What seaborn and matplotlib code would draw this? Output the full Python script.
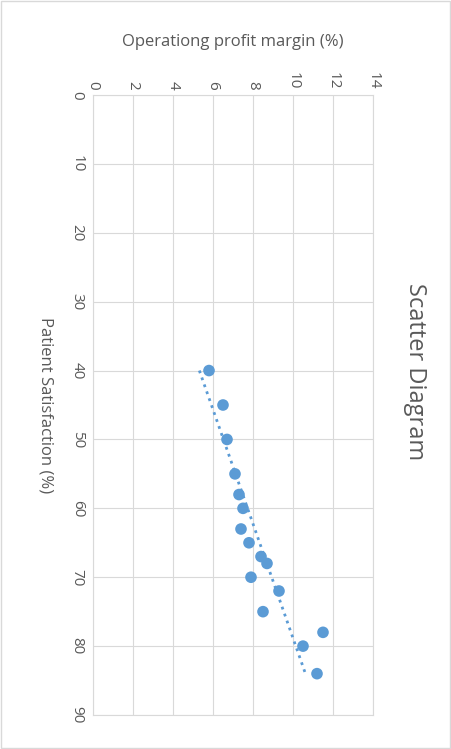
import numpy as np
import pandas as pd
import matplotlib
matplotlib.use("Agg")
import matplotlib.pyplot as plt
import seaborn as sns

satisfaction = [40, 45, 50, 55, 58, 60, 63, 65, 67, 68, 70, 72, 75, 78, 80, 84]
margin = [5.8, 6.5, 6.7, 7.1, 7.3, 7.5, 7.4, 7.8, 8.4, 8.7, 7.9, 9.3, 8.5, 11.5, 10.5, 11.2]
df = pd.DataFrame({"sat": satisfaction, "margin": margin})

sns.set_style("white")
plt.rcParams['font.family'] = ['Open Sans', 'DejaVu Sans']
fig = plt.figure(figsize=(4.51, 7.49), dpi=100)
ax = fig.add_axes([93 / 451, 1 - 715 / 749, 280 / 451, 620 / 749])

sns.scatterplot(data=df, x="margin", y="sat", ax=ax, color="#5b9bd5", s=70,
                edgecolor="none", zorder=3)

# linear trendline (margin as function of satisfaction)
k, b = np.polyfit(df["sat"], df["margin"], 1)
ts = np.array([min(satisfaction), max(satisfaction)])
ax.plot(k * ts + b, ts, color="#5b9bd5", ls=":", lw=2, zorder=2)

ax.set_xlim(0, 14)
ax.set_ylim(90, 0)
ax.set_xticks(range(0, 15, 2))
ax.set_yticks(range(0, 91, 10))
ax.grid(True, color="#d9d9d9", lw=0.8)
for s in ax.spines.values():
    s.set_color("#d9d9d9")
ax.xaxis.tick_top()
ax.tick_params(axis="x", labelrotation=-90, colors="#595959", labelsize=11, length=0, pad=4)
ax.tick_params(axis="y", labelrotation=-90, colors="#595959", labelsize=11, length=0, pad=6)
for t in ax.get_yticklabels():
    t.set_va("center")
ax.set_xlabel("")
ax.set_ylabel("")

fig.text(233 / 451, 1 - 42 / 749, "Operationg profit margin (%)", ha="center", va="center",
         fontsize=12, color="#595959")
fig.text(45 / 451, 1 - 405 / 749, "Patient Satisfaction (%)", ha="center", va="center",
         fontsize=12, color="#595959", rotation=-90)
fig.text(415 / 451, 1 - 372 / 749, "Scatter Diagram", ha="center", va="center",
         fontsize=17, color="#595959", rotation=-90)

fig.patches.append(plt.Rectangle((0.002, 0.002), 0.996, 0.996, transform=fig.transFigure,
                                 fill=False, edgecolor="#d9d9d9", lw=1))
fig.savefig("out.png", dpi=100)
